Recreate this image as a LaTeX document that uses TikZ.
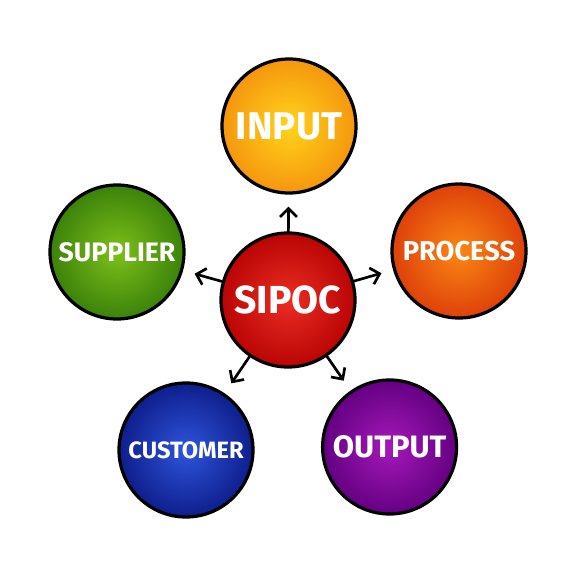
\documentclass[tikz,border=0pt]{standalone}
\usepackage{fontspec}
\newfontfamily\bubblefont{Fira Sans}
\usetikzlibrary{arrows.meta}
\definecolor{sipocin}{RGB}{235,45,35}
\definecolor{sipocout}{RGB}{185,5,5}
\definecolor{inputin}{RGB}{255,212,25}
\definecolor{inputout}{RGB}{245,150,15}
\definecolor{processin}{RGB}{250,135,20}
\definecolor{processout}{RGB}{222,65,10}
\definecolor{supplierin}{RGB}{125,192,25}
\definecolor{supplierout}{RGB}{60,130,10}
\definecolor{customerin}{RGB}{45,85,220}
\definecolor{customerout}{RGB}{15,30,140}
\definecolor{outputin}{RGB}{165,25,185}
\definecolor{outputout}{RGB}{100,0,130}
\begin{document}
\begin{tikzpicture}[line join=round, line cap=round, >={Straight Barb[length=6pt,width=12pt]},
	bubble/.style={circle, draw=black, line width=2.3pt, minimum size=3.35cm, inner sep=0pt, text=white, font=\bubblefont\bfseries\fontsize{#1}{#1}\selectfont},
	link/.style={->, line width=1.9pt, shorten >=0.3cm}]
	\useasboundingbox (0,0) rectangle (14.4,14.4);
	\node[bubble=27.8, inner color=sipocin, outer color=sipocout] (sipoc) at (7.2,6.9) {SIPOC};
	\node[bubble=27.5, inner color=inputin, outer color=inputout] (input) at (7.225,11.25) {INPUT};
	\node[bubble=19.4, inner color=processin, outer color=processout] (process) at (11.475,8.125) {PROCESS};
	\node[bubble=19, inner color=supplierin, outer color=supplierout] (supplier) at (2.925,8.1) {SUPPLIER};
	\node[bubble=16.8, inner color=customerin, outer color=customerout] (customer) at (4.65,3.15) {CUSTOMER};
	\node[bubble=22, inner color=outputin, outer color=outputout] (output) at (9.74,3.225) {OUTPUT};
	\foreach \n in {input,process,supplier,customer,output} \draw[link] (sipoc) -- (\n);
\end{tikzpicture}
\end{document}
